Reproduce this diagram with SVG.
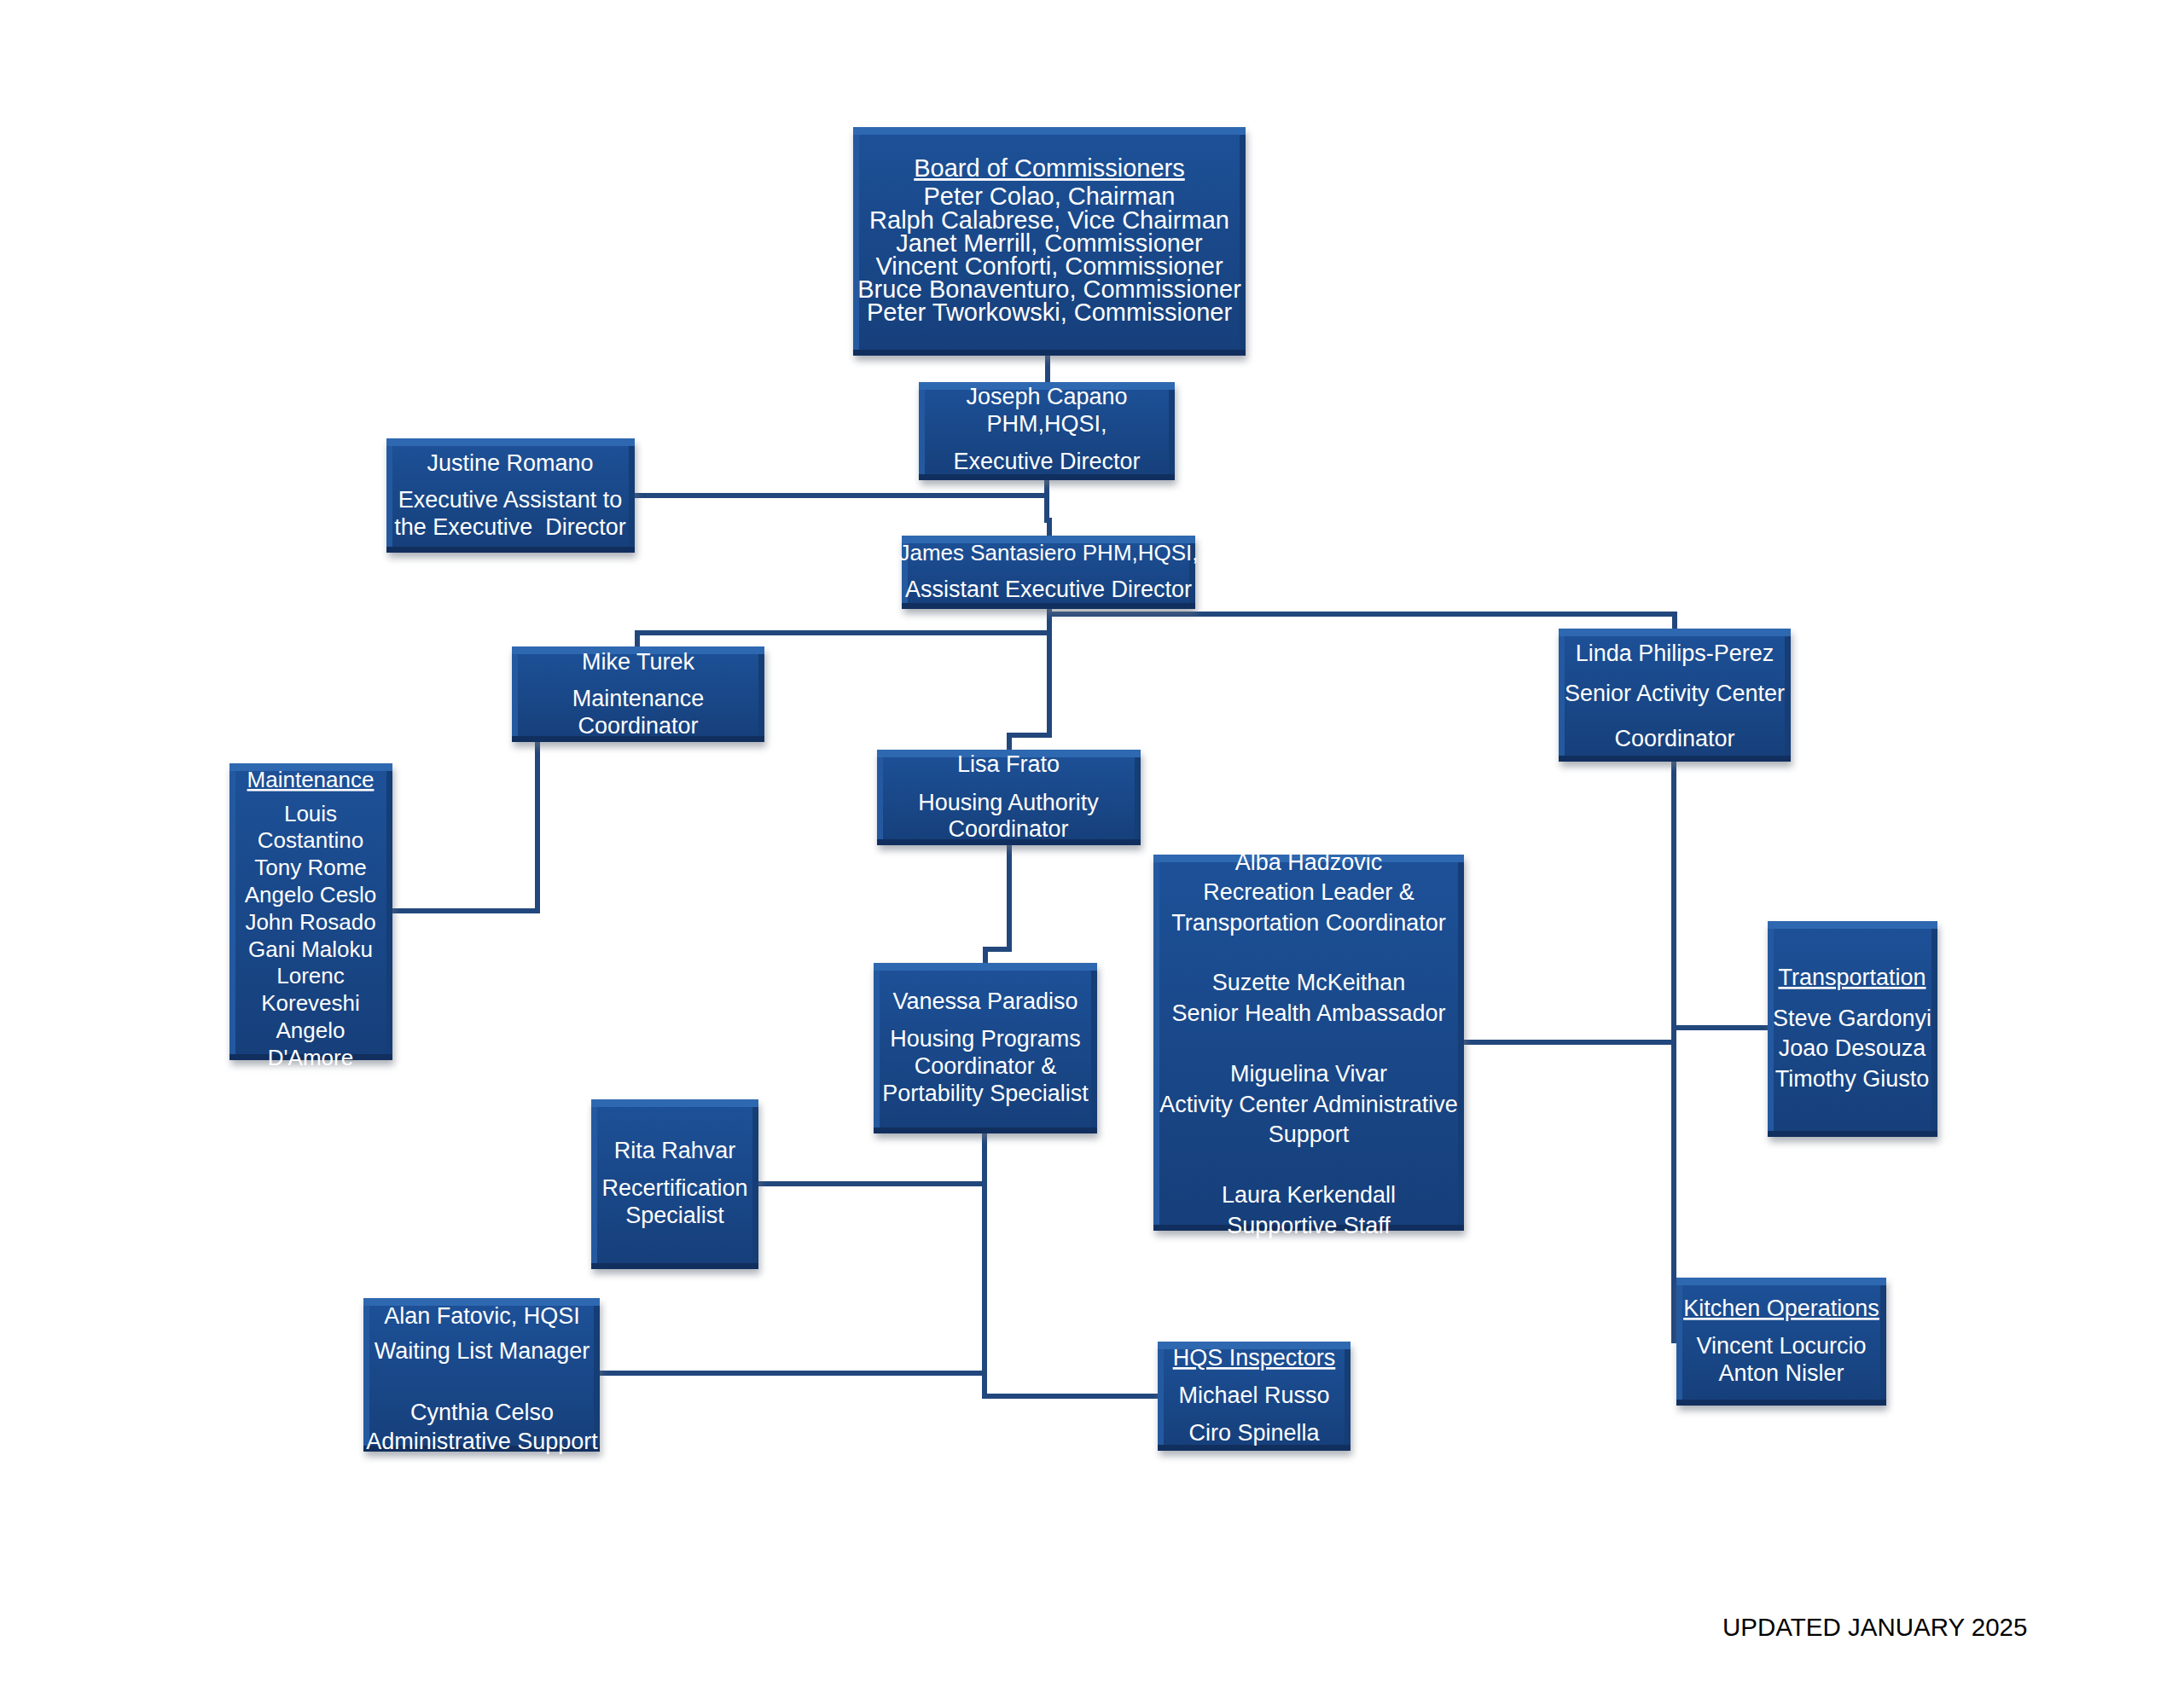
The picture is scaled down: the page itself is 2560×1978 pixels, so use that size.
<svg xmlns="http://www.w3.org/2000/svg" width="2560" height="1978" viewBox="0 0 2560 1978">
<defs>
<linearGradient id="gFill" x1="0" y1="0" x2="0" y2="1">
<stop offset="0" stop-color="#1d5198"/>
<stop offset="1" stop-color="#163f7a"/>
</linearGradient>
<filter id="shadow" x="-10%" y="-10%" width="125%" height="130%">
<feGaussianBlur stdDeviation="4"/>
</filter>
<style>
.sh{fill:#6d7480;opacity:0.55;filter:url(#shadow)}
.bg{fill:url(#gFill)}
.bt{stroke:#2e68b0;stroke-width:18}
.bl{stroke:#2459a0;stroke-width:14}
.br{stroke:#153d76;stroke-width:14}
.bb{stroke:#112f5e;stroke-width:14}
.t{font-family:"Liberation Sans",Arial,sans-serif;font-size:27px;fill:#ffffff;text-anchor:middle}
.s{font-size:26px}
.b{font-size:29px}
.u{text-decoration:underline}
.c{fill:none;stroke:#22477c;stroke-width:6}
.foot{font-family:"Liberation Sans",Arial,sans-serif;font-size:29.5px;fill:#000000}
</style>
</defs>
<rect width="2560" height="1978" fill="#ffffff"/>

<g id="connectors">
<path class="c" d="M1228 417 V448"/>
<path class="c" d="M1227 563 V610 H1230 V628"/>
<path class="c" d="M744 581 H1227"/>
<path class="c" d="M1230 714 V742 H747 V758"/>
<path class="c" d="M1230 720 H1963 V737"/>
<path class="c" d="M1230 714 V862 H1183 V879"/>
<path class="c" d="M630 870 V1068 H460"/>
<path class="c" d="M1183 991 V1113 H1155 V1129"/>
<path class="c" d="M1154 1329 V1637 H1357"/>
<path class="c" d="M889 1388 H1154"/>
<path class="c" d="M703 1610 H1154"/>
<path class="c" d="M1962 893 V1575"/>
<path class="c" d="M1715 1222 H1962"/>
<path class="c" d="M1962 1205 H2072"/>
</g>

<g id="board">
<rect class="sh" x="1002" y="155" width="460" height="268"/>
<svg x="1000" y="149" width="460" height="268"><rect class="bg" width="100%" height="100%"/><line class="bl" x1="0" y1="0" x2="0" y2="100%"/><line class="br" x1="100%" y1="0" x2="100%" y2="100%"/><line class="bt" x1="0" y1="0" x2="100%" y2="0"/><line class="bb" x1="0" y1="100%" x2="100%" y2="100%"/></svg>
<text class="t b u" x="1230" y="207">Board of Commissioners</text>
<text class="t b" x="1230" y="240">Peter Colao, Chairman</text>
<text class="t b" x="1230" y="268">Ralph Calabrese, Vice Chairman</text>
<text class="t b" x="1230" y="295">Janet Merrill, Commissioner</text>
<text class="t b" x="1230" y="322">Vincent Conforti, Commissioner</text>
<text class="t b" x="1230" y="349">Bruce Bonaventuro, Commissioner</text>
<text class="t b" x="1230" y="376">Peter Tworkowski, Commissioner</text>
</g>

<g id="capano">
<rect class="sh" x="1079" y="454" width="300" height="115"/>
<svg x="1077" y="448" width="300" height="115"><rect class="bg" width="100%" height="100%"/><line class="bl" x1="0" y1="0" x2="0" y2="100%"/><line class="br" x1="100%" y1="0" x2="100%" y2="100%"/><line class="bt" x1="0" y1="0" x2="100%" y2="0"/><line class="bb" x1="0" y1="100%" x2="100%" y2="100%"/></svg>
<text class="t" x="1227" y="474">Joseph Capano</text>
<text class="t" x="1227" y="506">PHM,HQSI,</text>
<text class="t" x="1227" y="550">Executive Director</text>
</g>

<g id="romano">
<rect class="sh" x="455" y="520" width="291" height="134"/>
<svg x="453" y="514" width="291" height="134"><rect class="bg" width="100%" height="100%"/><line class="bl" x1="0" y1="0" x2="0" y2="100%"/><line class="br" x1="100%" y1="0" x2="100%" y2="100%"/><line class="bt" x1="0" y1="0" x2="100%" y2="0"/><line class="bb" x1="0" y1="100%" x2="100%" y2="100%"/></svg>
<text class="t" x="598" y="552">Justine Romano</text>
<text class="t" x="598" y="595">Executive Assistant to</text>
<text class="t" x="598" y="627" xml:space="preserve">the Executive  Director</text>
</g>

<g id="santasiero">
<rect class="sh" x="1059" y="634" width="344" height="86"/>
<svg x="1057" y="628" width="344" height="86"><rect class="bg" width="100%" height="100%"/><line class="bl" x1="0" y1="0" x2="0" y2="100%"/><line class="br" x1="100%" y1="0" x2="100%" y2="100%"/><line class="bt" x1="0" y1="0" x2="100%" y2="0"/><line class="bb" x1="0" y1="100%" x2="100%" y2="100%"/></svg>
<text class="t s" x="1229" y="657">James Santasiero PHM,HQSI,</text>
<text class="t" x="1229" y="700">Assistant Executive Director</text>
</g>

<g id="turek">
<rect class="sh" x="602" y="764" width="296" height="112"/>
<svg x="600" y="758" width="296" height="112"><rect class="bg" width="100%" height="100%"/><line class="bl" x1="0" y1="0" x2="0" y2="100%"/><line class="br" x1="100%" y1="0" x2="100%" y2="100%"/><line class="bt" x1="0" y1="0" x2="100%" y2="0"/><line class="bb" x1="0" y1="100%" x2="100%" y2="100%"/></svg>
<text class="t" x="748" y="785">Mike Turek</text>
<text class="t" x="748" y="828">Maintenance</text>
<text class="t" x="748" y="860">Coordinator</text>
</g>

<g id="maintenance">
<rect class="sh" x="271" y="901" width="191" height="348"/>
<svg x="269" y="895" width="191" height="348"><rect class="bg" width="100%" height="100%"/><line class="bl" x1="0" y1="0" x2="0" y2="100%"/><line class="br" x1="100%" y1="0" x2="100%" y2="100%"/><line class="bt" x1="0" y1="0" x2="100%" y2="0"/><line class="bb" x1="0" y1="100%" x2="100%" y2="100%"/></svg>
<text class="t s u" x="364" y="923">Maintenance</text>
<text class="t s" x="364" y="963">Louis</text>
<text class="t s" x="364" y="994">Costantino</text>
<text class="t s" x="364" y="1026">Tony Rome</text>
<text class="t s" x="364" y="1058">Angelo Ceslo</text>
<text class="t s" x="364" y="1090">John Rosado</text>
<text class="t s" x="364" y="1122">Gani Maloku</text>
<text class="t s" x="364" y="1153">Lorenc</text>
<text class="t s" x="364" y="1185">Koreveshi</text>
<text class="t s" x="364" y="1217">Angelo</text>
<text class="t s" x="364" y="1249">D'Amore</text>
</g>

<g id="frato">
<rect class="sh" x="1030" y="885" width="309" height="112"/>
<svg x="1028" y="879" width="309" height="112"><rect class="bg" width="100%" height="100%"/><line class="bl" x1="0" y1="0" x2="0" y2="100%"/><line class="br" x1="100%" y1="0" x2="100%" y2="100%"/><line class="bt" x1="0" y1="0" x2="100%" y2="0"/><line class="bb" x1="0" y1="100%" x2="100%" y2="100%"/></svg>
<text class="t" x="1182" y="905">Lisa Frato</text>
<text class="t" x="1182" y="950">Housing Authority</text>
<text class="t" x="1182" y="981">Coordinator</text>
</g>

<g id="paradiso">
<rect class="sh" x="1026" y="1135" width="262" height="200"/>
<svg x="1024" y="1129" width="262" height="200"><rect class="bg" width="100%" height="100%"/><line class="bl" x1="0" y1="0" x2="0" y2="100%"/><line class="br" x1="100%" y1="0" x2="100%" y2="100%"/><line class="bt" x1="0" y1="0" x2="100%" y2="0"/><line class="bb" x1="0" y1="100%" x2="100%" y2="100%"/></svg>
<text class="t" x="1155" y="1183">Vanessa Paradiso</text>
<text class="t" x="1155" y="1227">Housing Programs</text>
<text class="t" x="1155" y="1259">Coordinator &amp;</text>
<text class="t" x="1155" y="1291">Portability Specialist</text>
</g>

<g id="hadzovic">
<rect class="sh" x="1354" y="1008" width="364" height="441"/>
<svg x="1352" y="1002" width="364" height="441"><rect class="bg" width="100%" height="100%"/><line class="bl" x1="0" y1="0" x2="0" y2="100%"/><line class="br" x1="100%" y1="0" x2="100%" y2="100%"/><line class="bt" x1="0" y1="0" x2="100%" y2="0"/><line class="bb" x1="0" y1="100%" x2="100%" y2="100%"/></svg>
<text class="t" x="1534" y="1020">Alba Hadzovic</text>
<text class="t" x="1534" y="1055">Recreation Leader &amp;</text>
<text class="t" x="1534" y="1091">Transportation Coordinator</text>
<text class="t" x="1534" y="1161">Suzette McKeithan</text>
<text class="t" x="1534" y="1197">Senior Health Ambassador</text>
<text class="t" x="1534" y="1268">Miguelina Vivar</text>
<text class="t" x="1534" y="1304">Activity Center Administrative</text>
<text class="t" x="1534" y="1339">Support</text>
<text class="t" x="1534" y="1410">Laura Kerkendall</text>
<text class="t" x="1534" y="1446">Supportive Staff</text>
</g>

<g id="philips-perez">
<rect class="sh" x="1829" y="743" width="272" height="156"/>
<svg x="1827" y="737" width="272" height="156"><rect class="bg" width="100%" height="100%"/><line class="bl" x1="0" y1="0" x2="0" y2="100%"/><line class="br" x1="100%" y1="0" x2="100%" y2="100%"/><line class="bt" x1="0" y1="0" x2="100%" y2="0"/><line class="bb" x1="0" y1="100%" x2="100%" y2="100%"/></svg>
<text class="t" x="1963" y="775">Linda Philips-Perez</text>
<text class="t" x="1963" y="822">Senior Activity Center</text>
<text class="t" x="1963" y="875">Coordinator</text>
</g>

<g id="transportation">
<rect class="sh" x="2074" y="1086" width="199" height="253"/>
<svg x="2072" y="1080" width="199" height="253"><rect class="bg" width="100%" height="100%"/><line class="bl" x1="0" y1="0" x2="0" y2="100%"/><line class="br" x1="100%" y1="0" x2="100%" y2="100%"/><line class="bt" x1="0" y1="0" x2="100%" y2="0"/><line class="bb" x1="0" y1="100%" x2="100%" y2="100%"/></svg>
<text class="t u" x="2171" y="1155">Transportation</text>
<text class="t" x="2171" y="1203">Steve Gardonyi</text>
<text class="t" x="2171" y="1238">Joao Desouza</text>
<text class="t" x="2171" y="1274">Timothy Giusto</text>
</g>

<g id="kitchen">
<rect class="sh" x="1967" y="1504" width="246" height="150"/>
<svg x="1965" y="1498" width="246" height="150"><rect class="bg" width="100%" height="100%"/><line class="bl" x1="0" y1="0" x2="0" y2="100%"/><line class="br" x1="100%" y1="0" x2="100%" y2="100%"/><line class="bt" x1="0" y1="0" x2="100%" y2="0"/><line class="bb" x1="0" y1="100%" x2="100%" y2="100%"/></svg>
<text class="t u" x="2088" y="1543">Kitchen Operations</text>
<text class="t" x="2088" y="1587">Vincent Locurcio</text>
<text class="t" x="2088" y="1619">Anton Nisler</text>
</g>

<g id="rahvar">
<rect class="sh" x="695" y="1295" width="196" height="199"/>
<svg x="693" y="1289" width="196" height="199"><rect class="bg" width="100%" height="100%"/><line class="bl" x1="0" y1="0" x2="0" y2="100%"/><line class="br" x1="100%" y1="0" x2="100%" y2="100%"/><line class="bt" x1="0" y1="0" x2="100%" y2="0"/><line class="bb" x1="0" y1="100%" x2="100%" y2="100%"/></svg>
<text class="t" x="791" y="1358">Rita Rahvar</text>
<text class="t" x="791" y="1402">Recertification</text>
<text class="t" x="791" y="1434">Specialist</text>
</g>

<g id="fatovic">
<rect class="sh" x="428" y="1528" width="277" height="180"/>
<svg x="426" y="1522" width="277" height="180"><rect class="bg" width="100%" height="100%"/><line class="bl" x1="0" y1="0" x2="0" y2="100%"/><line class="br" x1="100%" y1="0" x2="100%" y2="100%"/><line class="bt" x1="0" y1="0" x2="100%" y2="0"/><line class="bb" x1="0" y1="100%" x2="100%" y2="100%"/></svg>
<text class="t" x="565" y="1552">Alan Fatovic, HQSI</text>
<text class="t" x="565" y="1593">Waiting List Manager</text>
<text class="t" x="565" y="1665">Cynthia Celso</text>
<text class="t" x="565" y="1699">Administrative Support</text>
</g>

<g id="hqs">
<rect class="sh" x="1359" y="1579" width="226" height="128"/>
<svg x="1357" y="1573" width="226" height="128"><rect class="bg" width="100%" height="100%"/><line class="bl" x1="0" y1="0" x2="0" y2="100%"/><line class="br" x1="100%" y1="0" x2="100%" y2="100%"/><line class="bt" x1="0" y1="0" x2="100%" y2="0"/><line class="bb" x1="0" y1="100%" x2="100%" y2="100%"/></svg>
<text class="t u" x="1470" y="1601">HQS Inspectors</text>
<text class="t" x="1470" y="1645">Michael Russo</text>
<text class="t" x="1470" y="1689">Ciro Spinella</text>
</g>

<text class="foot" x="2019" y="1918">UPDATED JANUARY 2025</text>
</svg>
